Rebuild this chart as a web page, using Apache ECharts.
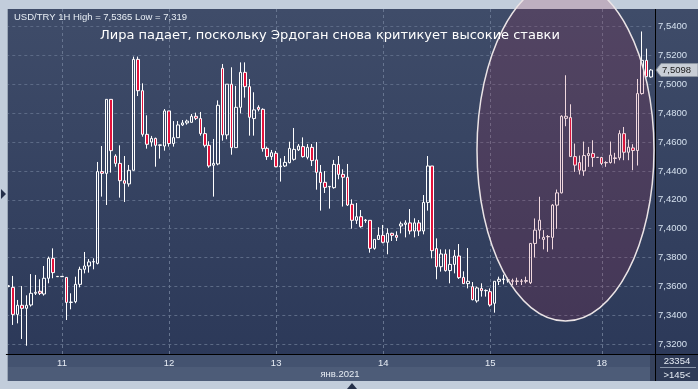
<!DOCTYPE html>
<html><head><meta charset="utf-8">
<script src="https://cdn.jsdelivr.net/npm/echarts@6/dist/echarts.min.js"></script>
<style>html,body{margin:0;padding:0;background:#c2cddb}#c{width:698px;height:389px}</style>
</head><body><div id="c"></div>
<script>
// hourly sessions: [day, firstHour, lastHour]
const sessions = [['08',12,23],['11',0,23],['12',0,23],['13',0,23],['14',0,23],['15',0,23],['17',23,23],['18',0,11]];
const openP = [7.3600,7.3594,7.3407,7.3470,7.3449,7.3472,7.3553,7.3567,7.3548,7.3657,7.3795,7.3668,7.3668,7.3663,7.3490,7.3495,7.3615,7.3719,7.3742,7.3770,
7.3760,7.4395,7.4383,7.4895,7.4503,7.4452,7.4332,7.4310,7.4404,7.5172,7.4955,7.4653,7.4600,7.4625,7.4577,7.4572,7.4815,7.4589,7.4630,7.4718,
7.4732,7.4736,7.4778,7.4762,7.4658,7.4577,7.4439,7.4448,7.5110,7.4649,7.5000,7.4561,7.4840,7.5082,7.4983,7.4762,7.4840,7.4826,7.4556,7.4499,
7.4522,7.4429,7.4434,7.4457,7.4480,7.4545,7.4568,7.4494,7.4563,7.4476,7.4390,7.4321,7.4290,7.4284,7.4445,7.4376,7.4356,7.4169,7.4058,7.4083,
7.4056,7.4058,7.3864,7.3926,7.3954,7.3906,7.3968,7.3954,7.4019,7.4030,7.4040,7.3984,7.4040,7.3984,7.4182,7.4434,7.3862,7.3737,7.3825,7.3710,
7.3753,7.3811,7.3663,7.3620,7.3599,7.3500,7.3587,7.3571,7.3564,7.3484,7.3636,7.3648,7.3645,7.3640,7.3636,7.3638,7.3636,7.3626,7.3898,7.3990,
7.3926,7.3944,7.3940,7.4163,7.4248,7.4764,7.4769,7.4499,7.4458,7.4400,7.4506,7.4520,7.4493,7.4493,7.4456,7.4458,7.4486,7.4490,7.4658,7.4529,
7.4559,7.4541,7.4935,7.5165,7.5050];
const closeP = [7.3605,7.3407,7.3470,7.3449,7.3470,7.3553,7.3560,7.3553,7.3657,7.3795,7.3696,7.3670,7.3670,7.3490,7.3492,7.3615,7.3719,7.3742,7.3770,7.3772,
7.4395,7.4383,7.4895,7.4540,7.4452,7.4332,7.4314,7.4404,7.5172,7.4955,7.4653,7.4584,7.4625,7.4577,7.4580,7.4815,7.4589,7.4630,7.4718,7.4732,
7.4745,7.4778,7.4764,7.4658,7.4577,7.4434,7.4452,7.4854,7.4649,7.5000,7.4561,7.4840,7.5082,7.4983,7.4771,7.4822,7.4826,7.4554,7.4499,7.4526,
7.4429,7.4434,7.4459,7.4556,7.4549,7.4572,7.4499,7.4563,7.4471,7.4390,7.4319,7.4286,7.4293,7.4445,7.4376,7.4356,7.4164,7.4058,7.4083,7.4014,
7.4060,7.3864,7.3926,7.3954,7.3906,7.3968,7.3954,7.3940,7.4033,7.4040,7.3984,7.4040,7.3984,7.4182,7.4434,7.3848,7.3737,7.3825,7.3710,7.3753,
7.3811,7.3661,7.3620,7.3636,7.3509,7.3590,7.3571,7.3573,7.3472,7.3636,7.3650,7.3652,7.3646,7.3636,7.3638,7.3636,7.3641,7.3898,7.3990,7.4059,
7.3940,7.3946,7.4163,7.4248,7.4778,7.4778,7.4499,7.4440,7.4405,7.4506,7.4520,7.4493,7.4494,7.4451,7.4458,7.4509,7.4490,7.4658,7.4529,7.4564,
7.4541,7.4935,7.5165,7.5052,7.5098];
const lowP = [7.3595,7.3334,7.3345,7.3237,7.3190,7.3461,7.3541,7.3541,7.3537,7.3622,7.3657,7.3668,7.3667,7.3368,7.3442,7.3484,7.3594,7.3691,7.3696,7.3719,
7.3753,7.4222,7.4164,7.4388,7.4429,7.4215,7.4185,7.4291,7.4404,7.4918,7.4637,7.4554,7.4568,7.4429,7.4485,7.4540,7.4568,7.4568,7.4630,7.4711,
7.4720,7.4736,7.4752,7.4644,7.4563,7.4422,7.4222,7.4439,7.4609,7.4619,7.4512,7.4561,7.4798,7.4907,7.4644,7.4644,7.4812,7.4533,7.4476,7.4476,
7.4425,7.4326,7.4427,7.4452,7.4471,7.4538,7.4492,7.4480,7.4434,7.4270,7.4125,7.4247,7.4139,7.4277,7.4342,7.4153,7.4157,7.4000,7.4033,7.4007,
7.4040,7.3834,7.3855,7.3922,7.3899,7.3823,7.3915,7.3915,7.3968,7.3940,7.3961,7.3940,7.3950,7.3961,7.4125,7.3795,7.3650,7.3703,7.3703,7.3622,
7.3691,7.3652,7.3617,7.3587,7.3504,7.3488,7.3530,7.3530,7.3461,7.3419,7.3610,7.3615,7.3627,7.3610,7.3610,7.3610,7.3622,7.3617,7.3801,7.3930,
7.3857,7.3840,7.3857,7.3999,7.4244,7.4709,7.4499,7.4393,7.4375,7.4366,7.4428,7.4428,7.4491,7.4440,7.4428,7.4451,7.4451,7.4474,7.4474,7.4474,
7.4405,7.4437,7.4928,7.5048,7.5045];
const highP = [7.3610,7.3673,7.3507,7.3603,7.3539,7.3686,7.3680,7.3650,7.3742,7.3807,7.3864,7.3670,7.3670,7.3663,7.3553,7.3668,7.3737,7.3839,7.3790,7.3795,
7.4462,7.4572,7.4895,7.4895,7.4515,7.4577,7.4503,7.4441,7.5191,7.5191,7.5006,7.4785,7.4642,7.4630,7.4582,7.4828,7.4815,7.4745,7.4745,7.4752,
7.4755,7.4794,7.4803,7.4808,7.4702,7.4605,7.4621,7.4888,7.5140,7.5000,7.5117,7.4988,7.5151,7.5151,7.5036,7.4944,7.4854,7.4833,7.4568,7.4545,
7.4538,7.4487,7.4503,7.4602,7.4697,7.4586,7.4632,7.4586,7.4586,7.4600,7.4441,7.4399,7.4295,7.4476,7.4503,7.4411,7.4448,7.4203,7.4178,7.4129,
7.4067,7.4058,7.3926,7.4010,7.4026,7.4003,7.3972,7.3982,7.4049,7.4058,7.4136,7.4072,7.4060,7.4233,7.4503,7.4434,7.3933,7.3857,7.3857,7.3857,
7.3853,7.3894,7.3705,7.3866,7.3631,7.3599,7.3622,7.3580,7.3587,7.3636,7.3668,7.3682,7.3661,7.3654,7.3661,7.3652,7.3668,7.3898,7.4071,7.4221,
7.3990,7.3956,7.4170,7.4271,7.4785,7.5062,7.4861,7.4589,7.4506,7.4603,7.4566,7.4612,7.4495,7.4497,7.4467,7.4603,7.4525,7.4681,7.4704,7.4617,
7.4585,7.5036,7.5365,7.5246,7.5105];
const titleSmall = 'USD/TRY 1H High = 7,5365 Low = 7,319';
const titleMain = 'Лира падает, поскольку Эрдоган снова критикует высокие ставки';
const monthLabel = 'янв.2021';
const barsInfo = ['23354', '>145<'];
const yMin = 7.30, yMax = 7.56, yStep = 0.02;

const categories = [];
sessions.forEach(([d, h0, h1]) => { for (let h = h0; h <= h1; h++) categories.push(d + ' ' + String(h).padStart(2, '0') + ':00'); });
const ohlc = openP.map((o, i) => [o, closeP[i], lowP[i], highP[i]]);
const isDayStart = v => v.endsWith(' 00:00');
const dayStarts = [];
categories.forEach((v, i) => { if (isDayStart(v)) dayStarts.push(i); });
const fmt = v => v.toFixed(4).replace('.', ',');
const FONT = 'Liberation Sans, Arial, sans-serif';
const GRID = '#5c6a86';
const VGRID = '#66748f';

const chart = echarts.init(document.getElementById('c'), null, { renderer: 'canvas' });
const option = {
  animation: false,
  backgroundColor: '#c2cddb',
  title: [
    { text: titleSmall, left: 9, top: 7, z: 30, textStyle: { color: '#e8eef5', fontSize: 9.5, fontWeight: 'normal', fontFamily: FONT } },
    { text: titleMain, left: 95, top: 24, z: 30, textStyle: { color: '#ffffff', fontSize: 13, fontWeight: 'normal', fontFamily: 'DejaVu Sans, sans-serif' } }
  ],
  grid: { left: 6.3, right: 45, top: -2.5, bottom: 15.8, containLabel: false, outerBoundsMode: 'none' },
  xAxis: {
    type: 'category', data: categories, boundaryGap: true, offset: -19.2, z: 20,
    axisLine: { show: true, lineStyle: { color: '#000000', width: 1 } },
    axisTick: { show: false },
    splitLine: { show: false },
    axisLabel: { interval: (i, v) => isDayStart(v), formatter: v => String(parseInt(v, 10)), color: '#e6ecf4', fontSize: 9.5, fontFamily: FONT, margin: 4 }
  },
  yAxis: {
    type: 'value', position: 'right', min: yMin, max: yMax, interval: yStep, scale: true,
    axisLine: { show: false }, axisTick: { show: false },
    splitLine: { show: true, lineStyle: { color: GRID, type: [3, 3], width: 1 } },
    axisLabel: { formatter: fmt, color: '#d4e0ee', fontSize: 9.5, fontFamily: FONT, margin: 5 }
  },
  series: [
    {
      type: 'candlestick', data: ohlc, barWidth: 3, z: 2,
      itemStyle: { color: 'rgba(0,0,0,0)', color0: '#e3123b', borderColor: '#ffffff', borderColor0: '#ffffff', borderWidth: 1 }
    }
  ],
  graphic: { elements: [
    { type: 'rect', z: -10, shape: { x: 8, y: 9, width: 690, height: 346 },
      style: { fill: new echarts.graphic.LinearGradient(0, 0, 0, 1, [{ offset: 0, color: '#3f4c69' }, { offset: 1, color: '#2c3959' }]) } },
    // frame covers
    { type: 'rect', z: 10, shape: { x: 0, y: 0, width: 698, height: 9 }, style: { fill: '#c2cddb' } },
    { type: 'rect', z: 10, shape: { x: 0, y: 0, width: 8, height: 389 }, style: { fill: '#c2cddb' } },
    { type: 'rect', z: 10, shape: { x: 0, y: 381, width: 698, height: 8 }, style: { fill: '#c2cddb' } },
    { type: 'line', z: 10, shape: { x1: 7.5, y1: 9, x2: 7.5, y2: 381 }, style: { stroke: '#9aa6b6', lineWidth: 1 } },
    // bottom band
    { type: 'rect', z: 10, shape: { x: 8, y: 354, width: 642, height: 13 }, style: { fill: '#445370' } },
    { type: 'rect', z: 10, shape: { x: 8, y: 367, width: 642, height: 14 }, style: { fill: '#4d5c78' } },
    { type: 'rect', z: 10, shape: { x: 650, y: 354, width: 5, height: 27 }, style: { fill: '#36425c' } },
    { type: 'rect', z: 10, shape: { x: 655, y: 354, width: 43, height: 27 }, style: { fill: '#2f3b57' } },
    { type: 'line', z: 21, shape: { x1: 8, y1: 354.5, x2: 698, y2: 354.5 }, style: { stroke: '#000000', lineWidth: 1 } },
    { type: 'line', z: 21, shape: { x1: 655.5, y1: 9, x2: 655.5, y2: 381 }, style: { stroke: '#000000', lineWidth: 1 } },
    { type: 'line', z: 21, shape: { x1: 660, y1: 367.5, x2: 696, y2: 367.5 }, style: { stroke: '#8a96aa', lineWidth: 1 } },
    { type: 'text', z: 30, x: 677, y: 361, style: { text: barsInfo[0], fill: '#e6ecf4', font: '9.5px ' + FONT, textAlign: 'center', textVerticalAlign: 'middle' } },
    { type: 'text', z: 30, x: 677, y: 375, style: { text: barsInfo[1], fill: '#e6ecf4', font: '9.5px ' + FONT, textAlign: 'center', textVerticalAlign: 'middle' } },
    { type: 'text', z: 30, x: 340, y: 374, style: { text: monthLabel, fill: '#e6ecf4', font: '9.5px ' + FONT, textAlign: 'center', textVerticalAlign: 'middle' } },
    // small frame arrows
    { type: 'polygon', z: 11, shape: { points: [[1, 189], [6, 194], [1, 199]] }, style: { fill: '#25304a' } },
    { type: 'polygon', z: 11, shape: { points: [[347, 389], [352, 383], [357, 389]] }, style: { fill: '#25304a' } },
    // highlight ellipse
    { type: 'ellipse', z: 15, shape: { cx: 565.5, cy: 150, rx: 88.5, ry: 171 },
      style: { fill: 'rgba(170,40,70,0.18)', stroke: '#ebe4e6', lineWidth: 1.5 } }
  ] }
};
chart.setOption(option);
// day grid lines and last price tag, positioned through the axis scales
const extra = [];
dayStarts.forEach(i => {
  const x = Math.round(chart.convertToPixel({ xAxisIndex: 0 }, i)) + 0.5;
  extra.push({ type: 'line', z: 1, shape: { x1: x, y1: 9, x2: x, y2: 354 }, style: { stroke: VGRID, lineWidth: 1, lineDash: [3, 3] } });
});
const lastClose = closeP[closeP.length - 1];
const py = chart.convertToPixel({ yAxisIndex: 0 }, lastClose);
extra.push(
  { type: 'polygon', z: 30, shape: { points: [[656, py], [661, py - 6.5], [698, py - 6.5], [698, py + 6.5], [661, py + 6.5]] }, style: { fill: '#c9ced6', stroke: '#8c95a3', lineWidth: 1 } },
  { type: 'text', z: 31, x: 662, y: py, style: { text: fmt(lastClose), fill: '#1a1a1a', font: '9.5px ' + FONT, textVerticalAlign: 'middle' } }
);
chart.setOption({ graphic: { elements: option.graphic.elements.concat(extra) } });
</script></body></html>
